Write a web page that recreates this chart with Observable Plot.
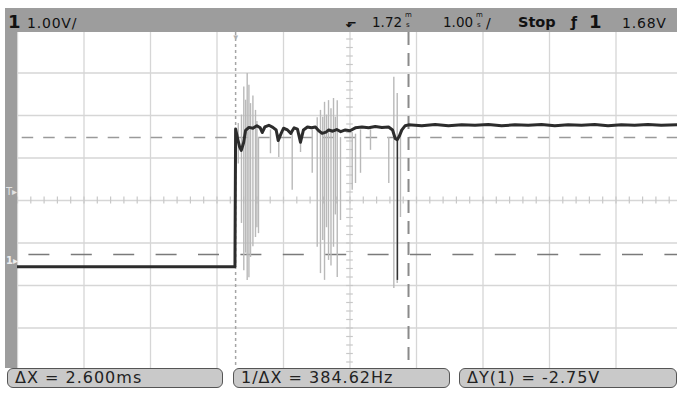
<!DOCTYPE html>
<html><head><meta charset="utf-8">
<script src="https://cdn.jsdelivr.net/npm/d3@7"></script>
<script src="https://cdn.jsdelivr.net/npm/@observablehq/plot@0.6"></script>
<style>
body{margin:0;background:#fff;}
#wrap{position:relative;width:694px;height:403px;overflow:hidden;font-family:"DejaVu Sans",sans-serif;color:#111;}
.abs{position:absolute;white-space:pre;line-height:1;}
.box{position:absolute;background:#c9c9c9;border:1.5px solid #555;border-radius:6px;box-sizing:border-box;}
</style></head><body><div id="wrap"></div>
<script>
// ---- scope settings ----
const msPerDiv = 1.00;
const delayMs = 1.72;
const voltsPerDiv = 1.00;
const centerVolts = 1.54;
const triggerLevelV = 1.68;
const groundV = 0;
const cursorXms = [0, 2.6];
const cursorYV = [3.02, 0.27];

// ---- header / footer labels ----
const chLabel = "1";
const scaleLabel = "1.00V/";
const delayLabel = "1.72";
const timeLabel = "1.00";
const runLabel = "Stop";
const trigSrc = "1";
const trigLabel = "1.68V";
const footerLabels = ["ΔX = 2.600ms", "1/ΔX = 384.62Hz", "ΔY(1) = -2.75V"];

// ---- main (dark) trace: time ms, volts ----
const darkT = [-3.28,-0.01,0.0,0.03,0.06,0.085,0.12,0.15,0.2,0.26,0.32,0.37,0.4,0.44,0.5,0.56,0.61,0.64,0.68,0.72,0.78,0.83,0.88,0.93,0.975,1.02,1.08,1.14,1.2,1.25,1.3,1.36,1.4,1.46,1.52,1.58,1.65,1.72,1.8,1.9,2.0,2.1,2.2,2.3,2.36,2.4,2.43,2.46,2.5,2.55,2.6,2.8,3.0,3.2,3.4,3.6,3.8,4.0,4.2,4.4,4.6,4.8,5.0,5.2,5.4,5.6,5.8,6.0,6.2,6.4,6.645];
const darkV = [-0.02,-0.02,3.22,3.0,2.8,2.72,2.9,3.19,3.26,3.24,3.3,3.25,3.14,3.27,3.31,3.26,3.2,2.95,3.1,3.24,3.2,3.12,3.25,3.22,2.91,3.2,3.27,3.25,3.27,3.18,3.12,3.15,3.2,3.17,3.21,3.16,3.2,3.18,3.25,3.27,3.25,3.28,3.26,3.27,3.2,3.0,2.97,3.05,3.2,3.3,3.32,3.3,3.33,3.3,3.32,3.31,3.33,3.3,3.32,3.31,3.33,3.3,3.32,3.31,3.33,3.3,3.32,3.31,3.33,3.31,3.32];
// single dark glitch captured in the main trace
const darkSpikeT = [2.433];
const darkSpikeHi = [3.0];
const darkSpikeLo = [-0.34];

// ---- glitch envelope (light persistence) ----
const spikeT  = [0.04,0.088,0.123,0.15,0.174,0.2,0.224,0.26,0.299,0.32,0.344,0.524,0.649,0.851,0.976,1.152,1.227,1.276,1.31,1.337,1.367,1.397,1.434,1.472,1.5,1.528,1.577,1.753,1.803,1.878,2.028,2.303,2.379,2.43,2.479];
const spikeHi = [3.35,3.55,4.21,3.9,4.53,4.25,3.82,4.0,3.66,3.4,3.02,3.2,3.1,3.2,3.1,3.2,3.49,3.66,3.5,3.85,3.55,3.89,3.7,3.94,3.5,3.89,3.02,3.12,3.1,3.2,3.2,3.02,4.44,4.06,3.2];
const spikeLo = [2.4,1.0,-0.11,0.3,-0.34,-0.28,0.2,0.45,0.67,0.9,0.76,2.64,2.55,1.78,2.67,2.18,0.44,-0.18,0.6,-0.34,0.9,0.13,0.0,0.44,1.2,-0.27,1.07,1.78,1.94,2.18,2.72,1.94,-0.53,-0.41,1.14];

// ---- geometry of the screen (divisions) ----
const W = 694, H = 403, mL = 17, mR = 17, mT = 32, mB = 35;
const pxPerDivX = 66.5, pxPerDivY = 42.5;
const tStart = delayMs - 5 * msPerDiv;
const tEnd = tStart + (W - mL - mR) / pxPerDivX * msPerDiv;
const halfDivsY = (H - mT - mB) / 2 / pxPerDivY;
const vBottom = centerVolts - halfDivsY * voltsPerDiv;
const vTop = centerVolts + halfDivsY * voltsPerDiv;

const gridT = d3.range(-5, 6).map(k => delayMs + k * msPerDiv);
const gridV = d3.range(-4, 5).map(k => centerVolts + k * voltsPerDiv);
const minorT = d3.range(-25, 26).map(k => delayMs + k * msPerDiv / 5);
const minorV = d3.range(-20, 21).map(k => centerVolts + k * voltsPerDiv / 5);

const dark = darkT.map((t, i) => ({t, v: darkV[i]}));
const spikes = spikeT.map((t, i) => ({t, hi: spikeHi[i], lo: spikeLo[i]}));
const darkSpikes = darkSpikeT.map((t, i) => ({t, hi: darkSpikeHi[i], lo: darkSpikeLo[i]}));

const gridColor = "#d6d6d6";
const chart = Plot.plot({
  width: W, height: H, marginLeft: mL, marginRight: mR, marginTop: mT, marginBottom: mB,
  x: {domain: [tStart, tEnd], axis: null},
  y: {domain: [vBottom, vTop], axis: null},
  style: {background: "white", overflow: "visible"},
  marks: [
    Plot.ruleX(gridT, {stroke: gridColor, strokeWidth: 1.3, clip: true}),
    Plot.ruleY(gridV, {stroke: gridColor, strokeWidth: 1.3, clip: true}),
    Plot.ruleX(minorT, {x: d => d, y1: () => centerVolts - 0.08, y2: () => centerVolts + 0.08, stroke: "#c8c8c8", strokeWidth: 1.2, clip: true}),
    Plot.ruleY(minorV, {y: d => d, x1: () => delayMs - 0.05, x2: () => delayMs + 0.05, stroke: "#c8c8c8", strokeWidth: 1.2, clip: true}),
    Plot.ruleY([cursorYV[0]], {stroke: "#9a9a9a", strokeWidth: 1.5, strokeDasharray: "11.5,10", strokeDashoffset: 16.8}),
    Plot.ruleY([cursorYV[1]], {stroke: "#7a7a7a", strokeWidth: 1.5, strokeDasharray: "21,21.4", strokeDashoffset: 31}),
    Plot.ruleX([cursorXms[0]], {stroke: "#a5a5a5", strokeWidth: 1.5, strokeDasharray: "3,3"}),
    Plot.ruleX([cursorXms[1]], {stroke: "#8a8a8a", strokeWidth: 2, strokeDasharray: "13,8"}),
    Plot.ruleX(spikes, {x: "t", y1: "lo", y2: "hi", stroke: "#b9b9b9", strokeWidth: 1.4, clip: true}),
    Plot.ruleX(darkSpikes, {x: "t", y1: "lo", y2: "hi", stroke: "#333", strokeWidth: 1.5, clip: true}),
    Plot.line(dark, {x: "t", y: "v", stroke: "#2c2c2c", strokeWidth: 3, strokeLinejoin: "round", clip: true}),
    Plot.text([0], {x: d => d, frameAnchor: "top", dy: 2, text: () => "▼", fontSize: 8, fill: "#b0b0b0"})
  ]
});
chart.style.position = "absolute";
chart.style.left = "0px";
chart.style.top = "0px";
const wrap = document.getElementById("wrap");
wrap.appendChild(chart);

const xs = chart.scale("x"), ys = chart.scale("y");

function el(cls, css, text) {
  const d = document.createElement("div");
  d.className = cls;
  Object.assign(d.style, css);
  if (text != null) d.textContent = text;
  wrap.appendChild(d);
  return d;
}
// gray bezels
el("abs", {left: "5px", top: "8px", width: (W - mR - 5) + "px", height: (mT - 8) + "px", background: "#9d9d9d"});
el("abs", {left: "5px", top: mT + "px", width: (mL - 5) + "px", height: (H - mT - mB) + "px", background: "#9d9d9d"});

// header texts
el("abs", {left: "8px", top: "13px", fontSize: "18px", fontWeight: "bold"}, chLabel);
el("abs", {left: "27px", top: "16px", fontSize: "14px", letterSpacing: "0.8px"}, scaleLabel);
el("abs", {left: (xs.apply(delayMs) - 4) + "px", top: "16px", fontSize: "13px", fontWeight: "bold"}, "⬐");
el("abs", {left: "372px", top: "16px", fontSize: "13.5px"}, delayLabel);
el("abs", {left: "405px", top: "12px", fontSize: "7px"}, "m");
el("abs", {left: "406px", top: "22px", fontSize: "7px"}, "s");
el("abs", {left: "443px", top: "16px", fontSize: "13.5px"}, timeLabel);
el("abs", {left: "476px", top: "12px", fontSize: "7px"}, "m");
el("abs", {left: "477px", top: "22px", fontSize: "7px"}, "s");
el("abs", {left: "486px", top: "16px", fontSize: "14px"}, "/");
el("abs", {left: "518px", top: "15px", fontSize: "14.5px", fontWeight: "bold"}, runLabel);
el("abs", {left: "571px", top: "15px", fontSize: "14px", fontWeight: "bold"}, "ƒ");
el("abs", {left: "589px", top: "13px", fontSize: "18px", fontWeight: "bold"}, trigSrc);
el("abs", {left: "622px", top: "16px", fontSize: "14px", letterSpacing: "0.8px"}, trigLabel);

// left bezel markers
el("abs", {left: "6px", top: (ys.apply(triggerLevelV) - 7) + "px", fontSize: "10px", color: "#e2e2e2"}, "T▸");
el("abs", {left: "6px", top: (ys.apply(groundV) - 9) + "px", fontSize: "10px", color: "#ededed", fontWeight: "bold"}, "1▸");

// footer soft-key boxes
const boxes = [[7, 216], [233, 217], [459, 218]];
boxes.forEach(([l, w], i) => {
  el("box", {left: l + "px", top: "368px", width: w + "px", height: "20px"});
  el("abs", {left: (l + 8) + "px", top: "370px", fontSize: "16px", letterSpacing: "1px", color: "#222"}, footerLabels[i]);
});
</script></body></html>
